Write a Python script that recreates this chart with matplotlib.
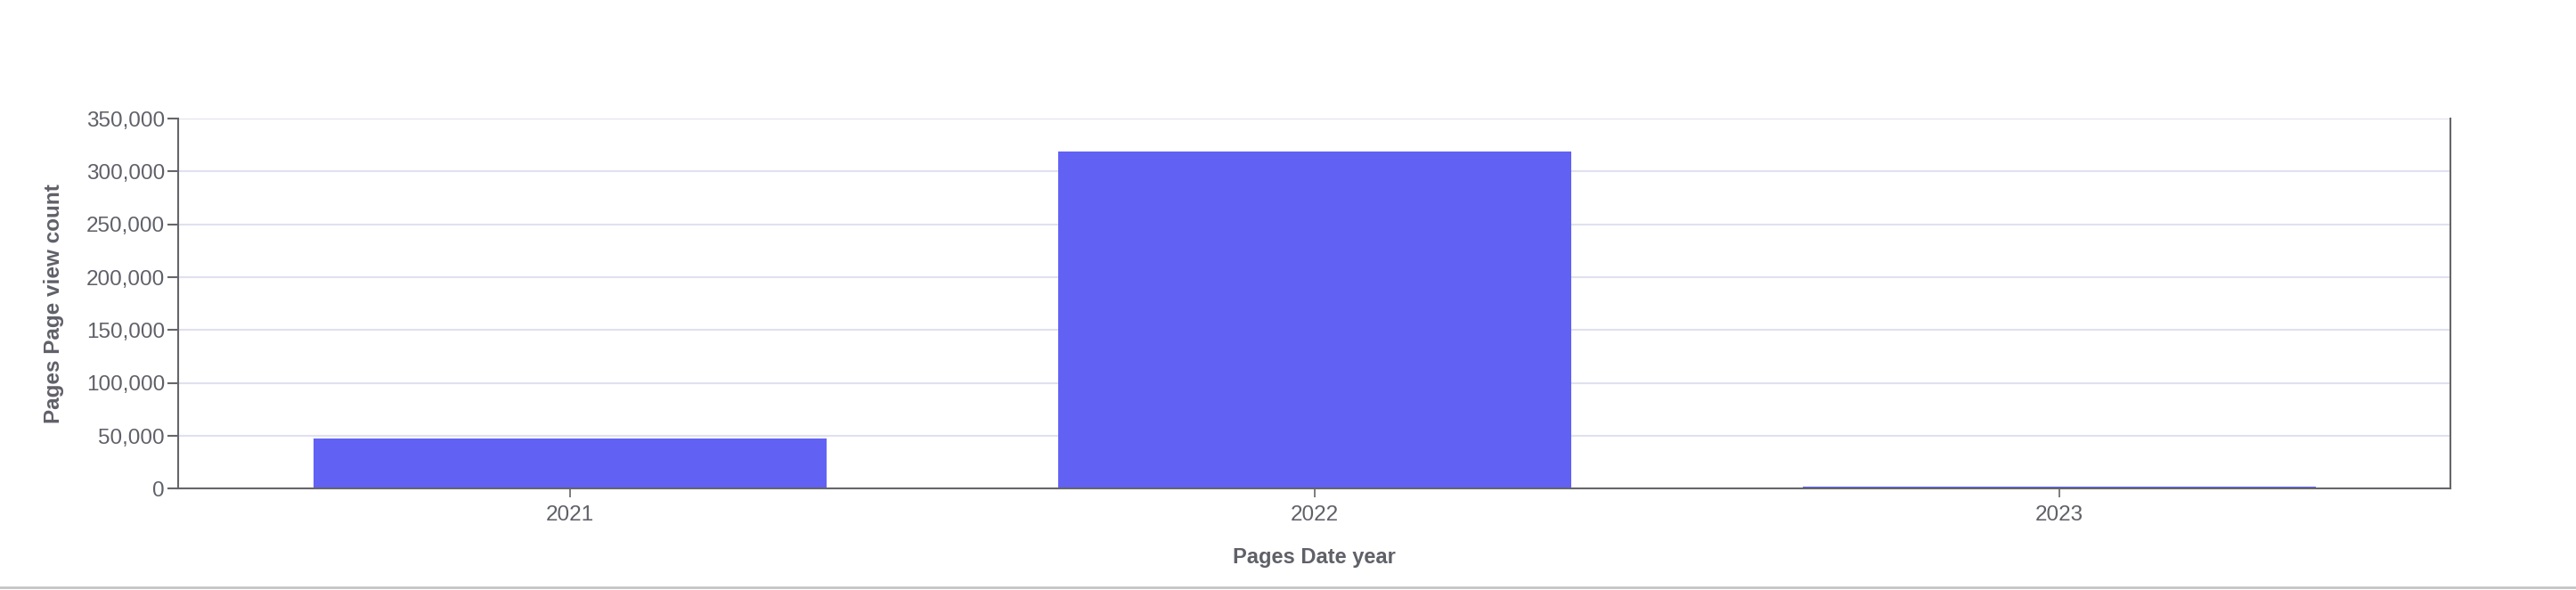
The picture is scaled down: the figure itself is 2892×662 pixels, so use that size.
import matplotlib
matplotlib.use("Agg")
import matplotlib.pyplot as plt
from matplotlib.lines import Line2D
from matplotlib.ticker import FuncFormatter

# data
years = ["2021", "2022", "2023"]
page_views = [47600, 318800, 2000]
y_ticks = [0, 50000, 100000, 150000, 200000, 250000, 300000, 350000]

bar_color = "#6161f4"
text_color = "#5f6068"
axis_color = "#66666a"
grid_color = "#dfe1ef"

plt.rcParams["font.family"] = ["Liberation Sans", "DejaVu Sans"]

fig = plt.figure(figsize=(28.92, 6.62), dpi=100)
ax = fig.add_axes([0.069, 0.1715, 0.8822, 0.6275])

x = list(range(len(years)))
ax.bar(x, page_views, width=0.69, color=bar_color, zorder=3)

ax.set_xlim(-0.527, 2.525)
ax.set_ylim(0, 350000)
ax.set_xticks(x)
ax.set_xticklabels(years)
ax.set_yticks(y_ticks)
ax.yaxis.set_major_formatter(FuncFormatter(lambda v, p: f"{int(v):,}"))

ax.grid(axis="y", color=grid_color, linewidth=1.5, zorder=0)
ax.set_axisbelow(True)

for side in ["left", "bottom", "right"]:
    ax.spines[side].set_color(axis_color)
    ax.spines[side].set_linewidth(1.5)
    ax.spines[side].set_zorder(4)
ax.spines["top"].set_visible(False)

ax.tick_params(axis="y", length=9, width=1.5, color=axis_color,
               labelsize=17.5, labelcolor=text_color, pad=1.5)
ax.tick_params(axis="x", length=7, width=1.2, color=axis_color,
               labelsize=17.5, labelcolor=text_color, pad=6.5)

ax.set_xlabel("Pages Date year", fontsize=17, fontweight="bold",
              color=text_color, labelpad=18)
ax.set_ylabel("Pages Page view count", fontsize=17.5, fontweight="bold",
              color=text_color, labelpad=18)

# thin gray rule along the bottom of the figure
fig.add_artist(Line2D([0, 1], [0.004, 0.004], transform=fig.transFigure,
                      color="#c4c4c4", linewidth=2))

fig.savefig("out.png", dpi=100)
